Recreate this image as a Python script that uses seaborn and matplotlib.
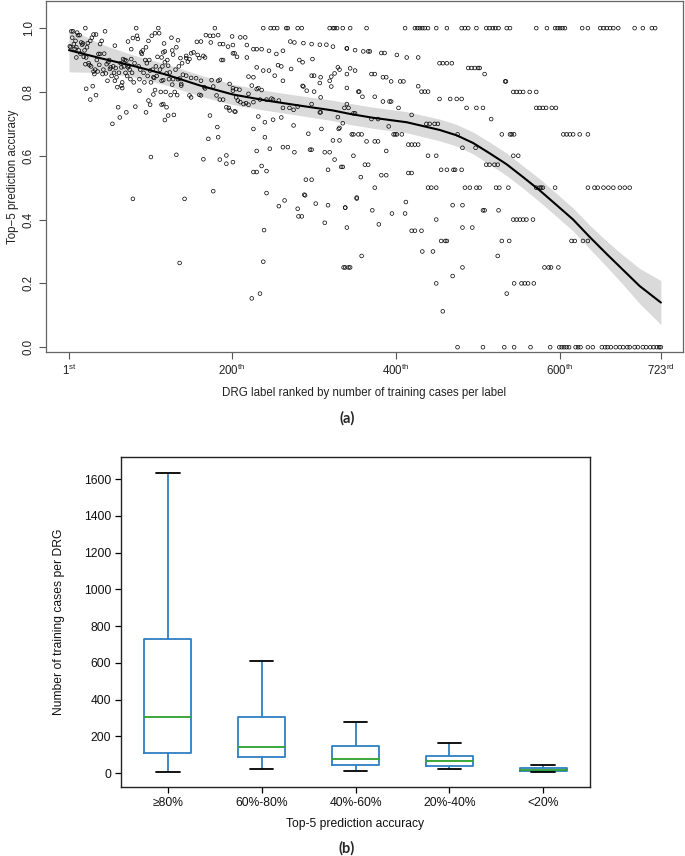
import numpy as np
import pandas as pd
import matplotlib
matplotlib.use("Agg")
import matplotlib.pyplot as plt
import seaborn as sns

# ---------------- data: panel (a) ----------------
# points: (rank, top-5 accuracy)
pts_dense = [
    (2,0.943),(4,0.99),(6,0.99),(3,0.94),(8,0.935),(10,0.94),(12,0.978),(14,0.978),(11,0.986),(21,1.0),
    (17,0.948),(18,0.952),(16,0.955),(23,0.94),(24,0.953),(27,0.96),(29,0.97),(31,0.98),(34,0.98),(22,0.908),
    (10,0.908),(21,0.887),(22,0.81),(30,0.818),(27,0.776),(34,0.79),(26,0.884),(31,0.864),(32,0.856),(36,0.864),
    (37,0.919),(39,0.919),(41,0.96),(39,0.95),(45,0.99),(42,0.856),(46,0.858),(47,0.887),(49,0.893),(48,0.835),
    (51,0.872),(52,0.877),(57,0.945),(57,0.835),(59,0.846),(55,0.88),(60,0.815),(61,0.752),(63,0.72),(54,0.70),
    (67,0.903),(69,0.9),(71,0.898),(68,0.88),(65,0.877),(73,0.877),(71,0.736),(65,0.82),(66,0.83),(66,0.812),
    (77,0.934),(77,0.903),(74,0.882),(73,0.958),(79,0.969),(82,0.754),(87,0.804),(87,0.84),(83,1.0),(84,0.976),
    (85,0.966),(91,0.93),(90,0.919),(89,0.924),(95,0.94),(98,0.96),(102,0.976),(106,0.984),(110,1.0),(111,0.984),
    (117,0.952),(116,0.924),(114,0.908),(118,0.893),(122,0.882),(100,0.867),(104,0.846),(105,0.844),(106,0.806),(104,0.792),
    (98,0.773),(100,0.76),(95,0.736),(114,0.76),(116,0.762),(120,0.752),(118,0.712),(122,0.726),(129,0.728),(114,0.835),
    (116,0.837),(120,0.858),(124,0.861),(127,0.823),(128,0.84),(134,0.84),(136,0.842),(138,0.825),(140,0.854),(138,0.82),
    (127,0.93),(128,0.917),(132,0.94),(134,0.962),(126,0.97),(118,0.927),(137,0.906),(144,0.906),(148,0.903),(150,0.921),
    (153,0.924),(158,0.916),(157,0.957),(162,0.958),(168,0.978),(173,0.976),(177,0.976),(179,1.0),(183,0.978),(174,0.955),
    (185,0.95),(189,0.95),(195,0.942),(201,0.947),(200,0.974),(210,0.971),(216,0.971),(218,0.947),(226,0.934),(230,0.934),
    (236,0.934),(245,0.929),(254,0.919),(262,0.929),(271,0.958),(276,0.955),(287,0.953),(297,0.95),(307,0.948),(315,0.948),
    (323,0.942),(340,0.937),
    (5,0.97),(7,0.95),(9,0.96),(13,0.93),(15,0.92),(19,0.91),(20,0.93),(25,0.89),(28,0.88),(33,0.87),
    (35,0.9),(38,0.885),(43,0.87),(44,0.92),(50,0.9),(53,0.85),(56,0.86),(58,0.875),(62,0.86),(64,0.89),
    (70,0.86),(72,0.85),(75,0.87),(76,0.84),(78,0.86),(80,0.83),(81,0.89),(86,0.88),(88,0.87),(92,0.86),
    (93,0.83),(94,0.9),(96,0.89),(97,0.85),(99,0.9),(101,0.83),(103,0.87),(107,0.88),(108,0.85),(109,0.91),
    (112,0.87),(113,0.8),(115,0.88),(119,0.8),(121,0.9),(123,0.84),(125,0.79),(130,0.8),(131,0.87),(133,0.79),
    (135,0.88),(139,0.89),
]
pts_mid = [
    (146,0.895),(144,0.913),(160,0.906),(165,0.913),(167,0.908),(187,0.9),(189,0.9),(201,0.921),(203,0.921),(206,0.91),
    (218,0.908),(230,0.877),(226,0.846),(220,0.848),(238,0.867),(245,0.867),(256,0.884),(260,0.88),(252,0.851),(262,0.835),
    (272,0.872),(282,0.9),(286,0.893),(298,0.903),(297,0.851),(300,0.851),(308,0.846),(321,0.848),(307,0.828),(319,0.835),
    (329,0.877),(331,0.87),(340,0.856),
    (144,0.851),(150,0.844),(156,0.843),(162,0.835),(166,0.815),(167,0.811),(148,0.789),(150,0.783),(160,0.791),(162,0.789),
    (175,0.837),(183,0.835),(185,0.838),(177,0.817),(181,0.789),(189,0.776),(197,0.825),(201,0.812),(205,0.809),(209,0.807),
    (220,0.794),(224,0.82),(230,0.809),(232,0.812),(236,0.806),(201,0.804),(205,0.783),(207,0.773),(210,0.768),(214,0.762),
    (220,0.76),(226,0.768),(193,0.752),(196,0.75),(197,0.742),(203,0.739),(204,0.738),(217,0.765),(234,0.776),(242,0.776),
    (248,0.779),(250,0.776),(257,0.773),(262,0.75),(270,0.75),(275,0.744),(280,0.754),(286,0.819),(287,0.817),(291,0.804),
    (297,0.762),(300,0.801),(308,0.783),(321,0.817),(325,0.858),(340,0.762),(342,0.75),(307,0.736),(308,0.736),
]
pts_low = [
    (185,0.776),(232,0.723),(260,0.72),(240,0.705),(250,0.713),(275,0.695),(309,0.684),(330,0.684),(335,0.702),(329,0.721),
    (293,0.669),(226,0.684),(183,0.658),(171,0.653),(182,0.69),(173,0.726),(240,0.658),(246,0.622),(262,0.627),(268,0.627),
    (276,0.611),(295,0.619),(297,0.619),(313,0.611),(319,0.611),(323,0.648),(331,0.648),(333,0.565),(335,0.565),(317,0.556),
    (325,0.588),(230,0.615),(226,0.549),(230,0.549),(236,0.568),(242,0.552),(193,0.601),(201,0.58),(185,0.588),(193,0.575),
    (165,0.589),(132,0.603),(101,0.596),(177,0.489),(242,0.483),(288,0.478),(290,0.525),(297,0.525),(264,0.46),(142,0.465),
    (79,0.465),(136,0.264),(224,0.153),(234,0.168),(238,0.268),(239,0.367),(257,0.442),(280,0.434),(281,0.41),(285,0.41),
    (289,0.476),(302,0.45),(313,0.39),(317,0.445),(338,0.4375),(340,0.375),(338,0.25),(342,0.25),
]
pts_right = [
    (340,0.936),(350,0.931),(360,0.927),(366,0.927),(368,0.927),(382,0.922),(386,0.922),(401,0.916),(413,0.908),(427,0.908),
    (453,0.89),(457,0.89),(462,0.89),(468,0.89),(488,0.875),(492,0.875),(496,0.875),(500,0.875),(502,0.875),(508,0.856),
    (344,0.874),(350,0.867),(370,0.856),(374,0.856),(384,0.846),(388,0.846),(394,0.833),(405,0.833),(409,0.833),(427,0.818),
    (533,0.833),(534,0.833),(340,0.8125),(354,0.801),(355,0.801),(359,0.785),(374,0.785),(384,0.77),(392,0.77),(394,0.77),
    (403,0.75),(431,0.801),(435,0.801),(439,0.801),(453,0.778),(466,0.778),(474,0.778),(480,0.778),(486,0.75),(498,0.75),
    (506,0.75),(516,0.715),(543,0.8),(547,0.8),(551,0.8),(555,0.8),(563,0.8),(571,0.8),(571,0.75),(575,0.75),
    (579,0.75),(583,0.75),(590,0.75),(595,0.75),(337,0.75),(348,0.733),(350,0.733),(370,0.715),(378,0.715),(391,0.692),
    (419,0.728),(437,0.7),(441,0.7),(447,0.7),(451,0.7),(475,0.667),(481,0.625),(497,0.625),(529,0.667),(539,0.667),
    (541,0.667),(544,0.667),(604,0.667),(608,0.667),(612,0.667),(616,0.667),(624,0.667),(634,0.667),(331,0.6875),(346,0.667),
    (348,0.667),(354,0.667),(358,0.667),(364,0.645),(374,0.645),(378,0.645),(388,0.615),(397,0.667),(399,0.667),(401,0.667),
    (407,0.667),(415,0.635),(419,0.635),(423,0.635),(427,0.635),(348,0.6),(362,0.572),(366,0.572),(357,0.533),(382,0.539),
    (388,0.539),(415,0.546),(419,0.546),(439,0.6),(449,0.6),(455,0.556),(462,0.556),(470,0.556),(472,0.556),(480,0.556),
    (510,0.572),(514,0.572),(520,0.572),(524,0.572),(543,0.6),(549,0.6),(352,0.466),(374,0.5),(439,0.5),(443,0.5),
    (449,0.5),(484,0.5),(490,0.5),(498,0.5),(502,0.5),(522,0.5),(526,0.5),(537,0.5),(571,0.5),(575,0.5),
    (577,0.5),(579,0.5),(594,0.5),(634,0.5),(642,0.5),(646,0.5),(653,0.5),(659,0.5),(665,0.5),(673,0.5),
    (679,0.5),(685,0.5),
    (338,0.4375),(352,0.469),(371,0.429),(395,0.419),(411,0.419),(412,0.455),(379,0.385),(419,0.365),(423,0.365),(431,0.365),
    (449,0.4),(469,0.445),(481,0.445),(481,0.375),(493,0.375),(506,0.429),(508,0.429),(525,0.429),(543,0.4),(547,0.4),
    (551,0.4),(555,0.4),(559,0.4),(567,0.4),(455,0.333),(460,0.333),(462,0.333),(529,0.333),(538,0.333),(614,0.333),
    (618,0.333),(628,0.333),(634,0.333),(358,0.286),(432,0.3),(445,0.3),(524,0.286),(336,0.25),(344,0.25),(481,0.25),
    (581,0.25),(586,0.25),(589,0.25),(598,0.25),(469,0.223),(449,0.2),(544,0.2),(553,0.2),(557,0.2),(561,0.2),
    (568,0.2),(535,0.168),(457,0.1125),
]
ranks_acc_one = [238,247,251,255,266,268,280,285,319,323,325,328,335,344,364,411,423,426,429,432,435,439,449,462,
                 480,484,488,498,510,514,518,521,525,535,539,571,584,594,597,600,603,606,627,634,649,653,657,661,
                 665,671,691,701,712,716]
ranks_acc_zero = [475,506,532,544,564,588,599,602,605,608,611,619,622,625,634,640,651,655,658,662,668,673,677,682,
                  685,691,695,701,705,710,714,718,721,723]

# fitted curve and its confidence band
curve_rank  = [1, 39, 79, 120, 161, 201, 242, 283, 323, 344, 372, 413, 453, 474, 494, 514, 535, 555, 575, 596, 616, 636, 657, 677, 697, 723]
curve_fit   = [0.931,0.906,0.882,0.854,0.820,0.792,0.773,0.757,0.742,0.731,0.719,0.705,0.681,0.664,0.640,0.608,0.573,0.533,0.492,0.445,0.400,0.346,0.292,0.242,0.192,0.140]
curve_lower = [0.863,0.861,0.848,0.821,0.787,0.760,0.742,0.726,0.710,0.698,0.686,0.672,0.647,0.630,0.606,0.573,0.538,0.498,0.456,0.409,0.364,0.309,0.252,0.196,0.137,0.071]
curve_upper = [0.999,0.951,0.916,0.887,0.853,0.824,0.804,0.788,0.774,0.764,0.752,0.738,0.715,0.698,0.674,0.643,0.608,0.568,0.528,0.481,0.436,0.383,0.332,0.288,0.247,0.209]

xtick_pos = [1, 200, 400, 600, 723]
xtick_lab = [r"$\mathrm{1}^{\mathrm{st}}$", r"$\mathrm{200}^{\mathrm{th}}$", r"$\mathrm{400}^{\mathrm{th}}$",
             r"$\mathrm{600}^{\mathrm{th}}$", r"$\mathrm{723}^{\mathrm{rd}}$"]

# ---------------- data: panel (b) ----------------
acc_groups = ["\u226580%", "60%-80%", "40%-60%", "20%-40%", "<20%"]
whisker_low = [5, 23, 13, 22, 4]
quart_1 = [110, 89, 42, 38, 11]
medians = [306, 140, 76, 65, 18]
quart_3 = [729, 306, 149, 94, 26]
whisker_high = [1634, 611, 279, 165, 42]

# ---------------- plotting ----------------
sns.set_theme(style="white")
plt.rcParams["font.family"] = ["Liberation Sans", "DejaVu Sans"]
plt.rcParams["mathtext.fontset"] = "custom"
plt.rcParams["mathtext.rm"] = "Liberation Sans"
plt.rcParams["mathtext.it"] = "Liberation Sans:italic"
plt.rcParams["mathtext.bf"] = "Liberation Sans:bold"

fig = plt.figure(figsize=(6.85, 8.56), dpi=100)

# panel (a)
ax1 = fig.add_axes([46/685, 1-352/856, (683-46)/685, 351/856])
all_pts = pts_dense + pts_mid + pts_low + pts_right \
    + [(r, 1.0) for r in ranks_acc_one] + [(r, 0.0) for r in ranks_acc_zero]
df_a = pd.DataFrame(all_pts, columns=["rank", "acc"])
df_c = pd.DataFrame({"rank": curve_rank, "fit": curve_fit, "lo": curve_lower, "hi": curve_upper})

ax1.fill_between(df_c["rank"], df_c["lo"], df_c["hi"], color="#dadada", lw=0, zorder=1)
sns.scatterplot(data=df_a, x="rank", y="acc", ax=ax1, marker="o", s=7,
                facecolors="none", edgecolor="black", linewidth=0.5, zorder=2)
sns.lineplot(data=df_c, x="rank", y="fit", ax=ax1, color="black", lw=1.5, zorder=3)

ax1.set_xlim(-27, 750)
ax1.set_ylim(-0.015, 1.085)
ax1.set_xticks(xtick_pos)
ax1.set_xticklabels(xtick_lab)
ax1.set_yticks([0, 0.2, 0.4, 0.6, 0.8, 1.0])
ax1.set_yticklabels(["0.0", "0.2", "0.4", "0.6", "0.8", "1.0"], rotation=90, va="center")
ax1.tick_params(axis="both", direction="out", length=5, width=0.8, color="#555555",
                labelsize=8.3, labelcolor="#222222", bottom=True, left=True)
ax1.tick_params(axis="x", pad=3)
ax1.tick_params(axis="y", pad=3)
for s in ax1.spines.values():
    s.set_color("#666666")
    s.set_linewidth(0.9)
ax1.set_xlabel("DRG label ranked by number of training cases per label", fontsize=8.3, color="#222222")
ax1.set_ylabel("Top\u22125 prediction accuracy", fontsize=8.3, color="#222222")
ax1.xaxis.set_label_coords(0.5, -0.10)
ax1.yaxis.set_label_coords(-0.042, 0.5)

fig.text(347/685, 1-418/856, "(a)", ha="center", va="center", fontsize=10.5,
         fontweight="bold", family=["Lato", "DejaVu Sans"])

# panel (b)
ax2 = fig.add_axes([121/685, 1-787/856, (590-121)/685, (787-457)/856])
rows = []
for g, a, b, c, d, e in zip(acc_groups, whisker_low, quart_1, medians, quart_3, whisker_high):
    for v in (a, b, c, d, e):
        rows.append((g, v))
df_b = pd.DataFrame(rows, columns=["group", "cases"])
blue = "#2f7fc1"
sns.boxplot(data=df_b, x="group", y="cases", order=acc_groups, ax=ax2, whis=(0, 100),
            width=0.5, fill=False, color=blue, linewidth=1.3,
            boxprops=dict(color=blue, linewidth=1.3),
            whiskerprops=dict(color=blue, linewidth=1.3),
            capprops=dict(color="black", linewidth=1.3),
            medianprops=dict(color="#2ca02c", linewidth=1.3),
            showfliers=False)
ax2.set_xlim(-0.5, 4.5)
ax2.set_ylim(-76, 1720)
ax2.set_yticks([0, 200, 400, 600, 800, 1000, 1200, 1400, 1600])
ax2.tick_params(axis="both", direction="out", length=4, width=0.9, color="black",
                labelsize=8.7, labelcolor="#111111", bottom=True, left=True, pad=3)
for s in ax2.spines.values():
    s.set_color("#222222")
    s.set_linewidth(1.0)
ax2.set_xlabel("Top-5 prediction accuracy", fontsize=8.7, color="#111111")
ax2.set_ylabel("Number of training cases per DRG", fontsize=8.7, color="#111111")
ax2.xaxis.set_label_coords(0.5, -0.095)
ax2.yaxis.set_label_coords(-0.12, 0.5)

fig.text(347/685, 1-848/856, "(b)", ha="center", va="center", fontsize=10.5,
         fontweight="bold", family=["Lato", "DejaVu Sans"])

fig.savefig("out.png", dpi=100)
